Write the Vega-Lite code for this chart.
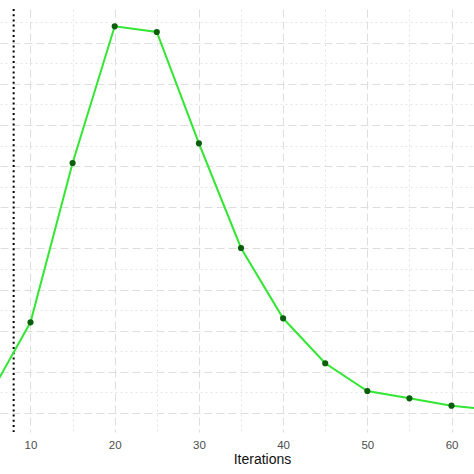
{
  "$schema": "https://vega.github.io/schema/vega-lite/v6.json",
  "width": 474,
  "height": 423,
  "autosize": {"type": "none"},
  "padding": {"top": 9, "left": 0, "right": 0, "bottom": 42},
  "background": "white",
  "config": {
    "view": {"stroke": null},
    "font": "Liberation Sans"
  },
  "datasets": {
    "series": [
      {"iter": 5, "value": 0.379},
      {"iter": 10, "value": 2.204},
      {"iter": 15, "value": 6.075},
      {"iter": 20, "value": 9.397},
      {"iter": 25, "value": 9.259},
      {"iter": 30, "value": 6.554},
      {"iter": 35, "value": 4.010},
      {"iter": 40, "value": 2.301},
      {"iter": 45, "value": 1.208},
      {"iter": 50, "value": 0.535},
      {"iter": 55, "value": 0.357},
      {"iter": 60, "value": 0.177},
      {"iter": 65, "value": 0.070}
    ],
    "marker": [{"iter": 8}]
  },
  "encoding": {
    "x": {
      "field": "iter",
      "type": "quantitative",
      "scale": {"domain": [6.378, 62.67], "nice": false, "zero": false},
      "axis": {
        "title": "Iterations",
        "values": [5, 10, 15, 20, 25, 30, 35, 40, 45, 50, 55, 60, 65],
        "labelExpr": "datum.value % 10 === 0 ? datum.label : ''",
        "domain": false,
        "ticks": false,
        "labelPadding": 7,
        "labelFontSize": 11.5,
        "labelColor": "#4d4d4d",
        "titleFontSize": 14,
        "titleFontWeight": "normal",
        "titleColor": "#111111",
        "titleX": 262,
        "titleY": 31,
        "titleBaseline": "alphabetic",
        "grid": true,
        "gridColor": {"condition": {"test": "datum.value % 10 === 0", "value": "#dedede"}, "value": "#e6e6e6"},
        "gridDash": {"condition": {"test": "datum.value % 10 === 0", "value": [8, 4]}, "value": [2, 3]},
        "gridWidth": 1
      }
    },
    "y": {
      "field": "value",
      "type": "quantitative",
      "scale": {"domain": [-0.462, 9.818], "nice": false, "zero": false},
      "axis": {
        "title": null,
        "values": [0, 0.5, 1, 1.5, 2, 2.5, 3, 3.5, 4, 4.5, 5, 5.5, 6, 6.5, 7, 7.5, 8, 8.5, 9, 9.5],
        "labels": false,
        "domain": false,
        "ticks": false,
        "grid": true,
        "gridColor": {"condition": {"test": "datum.value % 1 === 0", "value": "#dedede"}, "value": "#e6e6e6"},
        "gridDash": {"condition": {"test": "datum.value % 1 === 0", "value": [8, 4]}, "value": [2, 3]},
        "gridWidth": 1
      }
    }
  },
  "layer": [
    {
      "data": {"name": "marker"},
      "mark": {"type": "rule", "color": "black", "strokeWidth": 2, "strokeDash": [2, 3.2], "clip": true},
      "encoding": {
        "x": {"field": "iter", "type": "quantitative"},
        "y": {"value": 0},
        "y2": {"value": 423}
      }
    },
    {
      "data": {"name": "series"},
      "mark": {"type": "line", "color": "#33e633", "strokeWidth": 2, "clip": true},
      "encoding": {}
    },
    {
      "data": {"name": "series"},
      "mark": {"type": "circle", "color": "#0b5e0b", "opacity": 1, "size": 38, "clip": true},
      "encoding": {}
    }
  ]
}
